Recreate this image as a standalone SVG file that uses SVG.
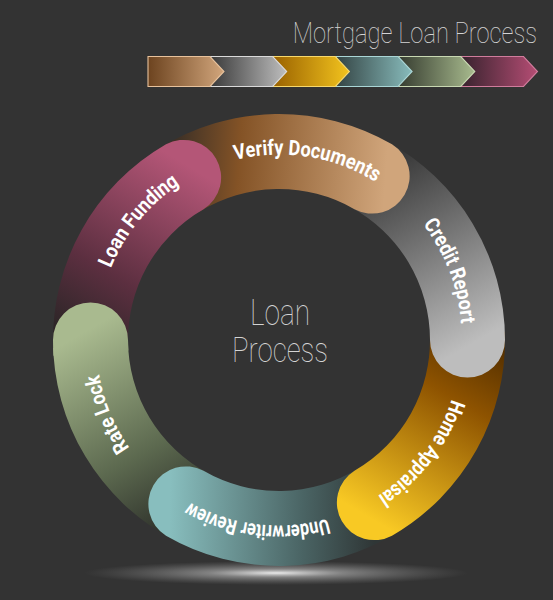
<svg xmlns="http://www.w3.org/2000/svg" xmlns:xlink="http://www.w3.org/1999/xlink" width="553" height="600" viewBox="0 0 553 600">
<style>
.seg-label{font-family:Roboto,"Liberation Sans",sans-serif;font-weight:700;font-size:21px;fill:#ffffff}
.thin{font-family:Roboto,"Liberation Sans",sans-serif;font-weight:100;fill:#d4d4d4}
.arrow{stroke-width:1.1}
</style>
<defs>
<path id="ring" d="M98.8,314.7 A182,182 0 1 1 459.2,365.3 A182,182 0 1 1 98.8,314.7"/>
<linearGradient id="gVD" gradientUnits="userSpaceOnUse" x1="175" y1="170" x2="385" y2="185">
<stop offset="0" stop-color="#3e3126"/><stop offset="0.3" stop-color="#845326"/><stop offset="1" stop-color="#d0a57b"/></linearGradient>
<linearGradient id="gCR" gradientUnits="userSpaceOnUse" x1="370" y1="170" x2="470" y2="345">
<stop offset="0" stop-color="#383838"/><stop offset="0.35" stop-color="#666666"/><stop offset="1" stop-color="#bdbdbd"/></linearGradient>
<linearGradient id="gHA" gradientUnits="userSpaceOnUse" x1="470" y1="335" x2="365" y2="515">
<stop offset="0" stop-color="#5a3300"/><stop offset="0.3" stop-color="#8e5300"/><stop offset="1" stop-color="#f8c924"/></linearGradient>
<linearGradient id="gUR" gradientUnits="userSpaceOnUse" x1="375" y1="505" x2="170" y2="500">
<stop offset="0" stop-color="#2f3636"/><stop offset="0.35" stop-color="#4a6464"/><stop offset="1" stop-color="#88bebe"/></linearGradient>
<linearGradient id="gRL" gradientUnits="userSpaceOnUse" x1="190" y1="510" x2="88" y2="330">
<stop offset="0" stop-color="#32362e"/><stop offset="0.35" stop-color="#5c694f"/><stop offset="1" stop-color="#a9ba8f"/></linearGradient>
<linearGradient id="gLF" gradientUnits="userSpaceOnUse" x1="90" y1="345" x2="195" y2="170">
<stop offset="0" stop-color="#2e2628"/><stop offset="0.35" stop-color="#5c2f40"/><stop offset="1" stop-color="#b45677"/></linearGradient>
<linearGradient id="a1" x1="0" y1="0" x2="1" y2="0"><stop offset="0" stop-color="#6c431f"/><stop offset="1" stop-color="#d2a67c"/></linearGradient>
<linearGradient id="a2" x1="0" y1="0" x2="1" y2="0"><stop offset="0" stop-color="#3a3a3a"/><stop offset="1" stop-color="#bebebe"/></linearGradient>
<linearGradient id="a3" x1="0" y1="0" x2="1" y2="0"><stop offset="0" stop-color="#9a6200"/><stop offset="1" stop-color="#f3c41e"/></linearGradient>
<linearGradient id="a4" x1="0" y1="0" x2="1" y2="0"><stop offset="0" stop-color="#344444"/><stop offset="1" stop-color="#88bcbc"/></linearGradient>
<linearGradient id="a5" x1="0" y1="0" x2="1" y2="0"><stop offset="0" stop-color="#363c30"/><stop offset="1" stop-color="#a8bb8e"/></linearGradient>
<linearGradient id="a6" x1="0" y1="0" x2="1" y2="0"><stop offset="0" stop-color="#38232e"/><stop offset="1" stop-color="#b54d74"/></linearGradient>
<radialGradient id="glow" cx="0.5" cy="0.5" r="0.5">
<stop offset="0" stop-color="#ffffff" stop-opacity="0.9"/><stop offset="0.35" stop-color="#d0d0d0" stop-opacity="0.5"/><stop offset="1" stop-color="#999999" stop-opacity="0"/></radialGradient>
</defs>
<rect width="553" height="600" fill="#333333"/>
<ellipse cx="276" cy="573" rx="192" ry="12" fill="url(#glow)"/>
<text class="thin" transform="translate(537,43) scale(0.79,1)" x="0" y="0" font-size="30" text-anchor="end">Mortgage Loan Process</text>
<g id="progress-arrows">
<path class="arrow" d="M461.5,56.5 H523.5 L537.5,71.5 L523.5,86.5 H461.5 Z" fill="url(#a6)" stroke="#d07c9c"/>
<path class="arrow" d="M398.8,56.5 H460.8 L474.8,71.5 L460.8,86.5 H398.8 Z" fill="url(#a5)" stroke="#c8d8b2"/>
<path class="arrow" d="M336.1,56.5 H398.1 L412.1,71.5 L398.1,86.5 H336.1 Z" fill="url(#a4)" stroke="#aad6d6"/>
<path class="arrow" d="M273.4,56.5 H335.4 L349.4,71.5 L335.4,86.5 H273.4 Z" fill="url(#a3)" stroke="#f8d86c"/>
<path class="arrow" d="M210.7,56.5 H272.7 L286.7,71.5 L272.7,86.5 H210.7 Z" fill="url(#a2)" stroke="#dadada"/>
<path class="arrow" d="M148,56.5 H210 L224,71.5 L210,86.5 H148 Z" fill="url(#a1)" stroke="#e8c29c"/>
</g>
<g id="rate-lock">
<path d="M172.9,539.5 A226,226 0 0 1 53,340 A37.5,37.5 0 0 1 128,340 A151,151 0 0 0 208.1,473.3 Z" fill="url(#gRL)"/>
<text class="seg-label"><textPath xlink:href="#ring" href="#ring" startOffset="1056.8" text-anchor="middle" textLength="80" lengthAdjust="spacingAndGlyphs">Rate Lock</textPath></text>
</g>
<g id="underwriter-review">
<path d="M398.8,531.6 A226,226 0 0 1 166.0,535.7 A37.5,37.5 0 0 1 203.5,470.8 A151,151 0 0 0 359.0,468.0 Z" fill="url(#gUR)"/>
<text class="seg-label"><textPath xlink:href="#ring" href="#ring" startOffset="864" text-anchor="middle" textLength="143" lengthAdjust="spacingAndGlyphs">Underwriter Review</textPath></text>
</g>
<g id="home-appraisal">
<path d="M504.9,332.1 A226,226 0 0 1 392.0,535.7 A37.5,37.5 0 0 1 354.5,470.8 A151,151 0 0 0 429.9,334.7 Z" fill="url(#gHA)"/>
<text class="seg-label"><textPath xlink:href="#ring" href="#ring" startOffset="675.3" text-anchor="middle" textLength="124" lengthAdjust="spacingAndGlyphs">Home Appraisal</textPath></text>
</g>
<g id="credit-report">
<path d="M385.1,140.5 A226,226 0 0 1 505,340 A37.5,37.5 0 0 1 430,340 A151,151 0 0 0 349.9,206.7 Z" fill="url(#gCR)"/>
<text class="seg-label"><textPath xlink:href="#ring" href="#ring" startOffset="482.8" text-anchor="middle" textLength="108" lengthAdjust="spacingAndGlyphs">Credit Report</textPath></text>
</g>
<g id="verify-documents">
<path d="M159.2,148.4 A226,226 0 0 1 392.0,144.3 A37.5,37.5 0 0 1 354.5,209.2 A151,151 0 0 0 199.0,212.0 Z" fill="url(#gVD)"/>
<text class="seg-label"><textPath xlink:href="#ring" href="#ring" startOffset="292.2" text-anchor="middle" textLength="146" lengthAdjust="spacingAndGlyphs">Verify Documents</textPath></text>
</g>
<g id="loan-funding">
<path d="M53.1,347.9 A226,226 0 0 1 166.0,144.3 A37.5,37.5 0 0 1 203.5,209.2 A151,151 0 0 0 128.1,345.3 Z" fill="url(#gLF)"/>
<text class="seg-label"><textPath xlink:href="#ring" href="#ring" startOffset="103.2" text-anchor="middle" textLength="110" lengthAdjust="spacingAndGlyphs">Loan Funding</textPath></text>
</g>
<g id="rate-lock-head">
<path d="M53.5,355.8 A226,226 0 0 1 53,340 A37.5,37.5 0 0 1 128,340 A151,151 0 0 0 128.4,350.5 Z" fill="url(#gRL)"/>
</g>
<g id="center-label">
<text class="thin" transform="translate(280,325) scale(0.76,1)" x="0" y="0" font-size="37" text-anchor="middle">Loan</text>
<text class="thin" transform="translate(280,362) scale(0.79,1)" x="0" y="0" font-size="35" text-anchor="middle">Process</text>
</g>
</svg>
